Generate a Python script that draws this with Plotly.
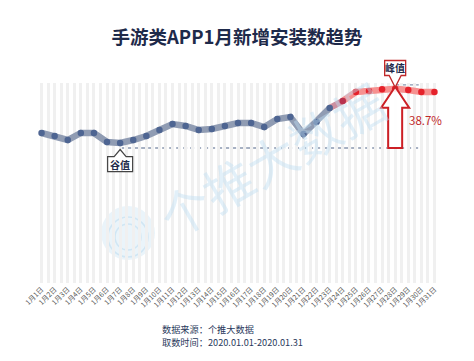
import plotly.graph_objects as go

days = [f"1月{i}日" for i in range(1, 32)]
installs = [150, 147, 143, 150, 150, 141, 140, 143, 147, 153,
            159, 157, 153, 154, 157, 160, 160, 156, 164, 166,
            149, 161, 175, 182, 191, 192, 193.8, 194.2, 193, 191, 191]
title_text = "手游类APP1月新增安装数趋势"
source_lines = ["数据来源：个推大数据", "取数时间：2020.01.01-2020.01.31"]
watermark = "个推大数据"

N = len(days)
idx = list(range(N))
XR = [-0.5, N - 0.5]
YR = [0, 200]

vmin = min(installs)
vmax = max(installs)
imin = installs.index(vmin)
imax = installs.index(vmax)
pct = (vmax / vmin - 1) * 100

split = 23  # red section starts (1月24日)

BLUE_LINE = "#909cb3"
BLUE_DOT = "#4e6592"
RED_LINE = "#f69190"
RED_DOT = "#e5222b"
NAVY = "#1e2a4a"
DASH = "#8a98b0"
FONT = "Noto Sans CJK SC"


def px(i):
    return (i - XR[0]) / (XR[1] - XR[0])


def py(v):
    return (v - YR[0]) / (YR[1] - YR[0])


fig = go.Figure()

fig.add_trace(go.Scatter(
    x=idx[:split], y=installs[:split], mode="lines",
    line=dict(color=BLUE_LINE, width=6.5), hoverinfo="skip", showlegend=False))
fig.add_trace(go.Scatter(
    x=idx[split - 1:split + 1], y=installs[split - 1:split + 1], mode="lines",
    line=dict(color="#cc8fa0", width=6.5), hoverinfo="skip", showlegend=False))
fig.add_trace(go.Scatter(
    x=idx[split:], y=installs[split:], mode="lines",
    line=dict(color=RED_LINE, width=6.5), hoverinfo="skip", showlegend=False))
dot_colors = [BLUE_DOT] * split + ["#b8334f"] + [RED_DOT] * (N - split - 1)
fig.add_trace(go.Scatter(
    x=idx, y=installs, mode="markers",
    marker=dict(color=dot_colors, size=6.5, line=dict(width=0)),
    hoverinfo="skip", showlegend=False))

shapes = []
shapes.append(dict(type="line", xref="x", yref="y",
                   x0=imin, x1=imax + 1.8, y0=vmin - 5, y1=vmin - 5,
                   line=dict(color=DASH, width=1.3, dash="4px,3px"), layer="below"))
shapes.append(dict(type="line", xref="x", yref="y",
                   x0=imax, x1=imax + 1.8, y0=vmax + 4, y1=vmax + 4,
                   line=dict(color=DASH, width=1.3, dash="4px,3px"), layer="below"))

# big hollow arrow
yb = py(vmin - 5)
yh = py(vmax - 19)
yt = py(vmax + 2)
shapes.append(dict(
    type="path", xref="paper", yref="paper", xsizemode="pixel", xanchor=px(imax),
    path=(f"M -7 {yb} L 7 {yb} L 7 {yh} L 14 {yh} L 0 {yt} "
          f"L -14 {yh} L -7 {yh} Z"),
    line=dict(color="#cc1f25", width=2), fillcolor="rgba(255,255,255,0.9)"))

# trough callout
shapes.append(dict(
    type="path", xref="paper", yref="paper", xsizemode="pixel", ysizemode="pixel",
    xanchor=px(imin), yanchor=py(vmin),
    path=("M -12.5 -13.7 L -6 -13.7 L 0 -6.5 L 6 -13.7 L 12.5 -13.7 "
          "L 12.5 -28.7 L -12.5 -28.7 Z"),
    line=dict(color="#444444", width=1.2), fillcolor="white"))
# peak callout
shapes.append(dict(
    type="path", xref="paper", yref="paper", xsizemode="pixel", ysizemode="pixel",
    xanchor=px(imax), yanchor=py(vmax),
    path=("M -10.5 13.3 L -6 13.3 L 0 1.5 L 6 13.3 L 10.5 13.3 "
          "L 10.5 28.3 L -10.5 28.3 Z"),
    line=dict(color="#c0282a", width=1.3), fillcolor="white"))

# watermark logo
shapes.append(dict(type="circle", xref="paper", yref="paper", xsizemode="pixel",
                   ysizemode="pixel", xanchor=px(6.6), yanchor=py(50),
                   x0=-27, x1=27, y0=-27, y1=27, line=dict(width=0),
                   fillcolor="rgba(185,218,238,0.3)", layer="below"))
for r in (20, 13):
    shapes.append(dict(type="circle", xref="paper", yref="paper", xsizemode="pixel",
                       ysizemode="pixel", xanchor=px(6.6), yanchor=py(46),
                       x0=-r, x1=r, y0=-r, y1=r,
                       line=dict(width=1.5, color="rgba(170,210,235,0.4)"),
                       layer="below"))

annotations = [
    dict(text="<b>谷值</b>", xref="paper", yref="paper", x=px(imin), y=py(vmin),
         xanchor="center", yanchor="middle", yshift=-21.5, showarrow=False,
         font=dict(size=10, color=NAVY, family=FONT)),
    dict(text="<b>峰值</b>", xref="paper", yref="paper", x=px(imax), y=py(vmax),
         xanchor="center", yanchor="middle", yshift=21, showarrow=False,
         font=dict(size=10, color=NAVY, family=FONT)),
    dict(text=f"{pct:.1f}%", xref="paper", yref="paper", x=px(imax), y=py((vmin + vmax) / 2),
         xshift=12, yshift=-4, xanchor="left", yanchor="middle", showarrow=False,
         font=dict(size=11.5, color="#c0282a", family=FONT)),
    dict(text=watermark, xref="paper", yref="paper", x=px(17.5), y=py(125),
         xanchor="center", yanchor="middle", showarrow=False, textangle=-30,
         font=dict(size=50, color="rgba(190,222,242,0.45)", family=FONT)),
    dict(text=source_lines[0], xref="paper", yref="paper", x=(160 - 35) / 406,
         y=py(-46), xanchor="left", yanchor="middle", showarrow=False,
         font=dict(size=9.2, color="#2a3a5c", family=FONT)),
    dict(text=source_lines[1], xref="paper", yref="paper", x=(160 - 35) / 406,
         y=py(-59), xanchor="left", yanchor="middle", showarrow=False,
         font=dict(size=9.2, color="#2a3a5c", family=FONT)),
]

fig.update_layout(
    width=474, height=361,
    margin=dict(l=35, r=33, t=83, b=78),
    paper_bgcolor="white", plot_bgcolor="white",
    title=dict(text=title_text, x=0.5, xanchor="center", y=1 - 38 / 361, yanchor="middle",
               font=dict(size=18.5, color=NAVY, family=FONT, weight=600)),
    xaxis=dict(range=XR, tickmode="array", tickvals=idx, ticktext=days,
               tickangle=-45, tickfont=dict(size=7, color="#555555", family=FONT),
               showgrid=True, gridcolor="#f0f0f0", gridwidth=3,
               minor=dict(tickmode="linear", tick0=-0.5, dtick=1, showgrid=True,
                          gridcolor="#f0f0f0", gridwidth=3),
               showline=False, zeroline=False, ticks="", fixedrange=True,
               automargin=False),
    yaxis=dict(range=YR, visible=False, showgrid=False, zeroline=False, fixedrange=True),
    shapes=shapes, annotations=annotations,
    showlegend=False, hovermode=False,
)

fig.write_html("out.html", config={"displayModeBar": False},
               post_script="document.body.style.margin='0';")
